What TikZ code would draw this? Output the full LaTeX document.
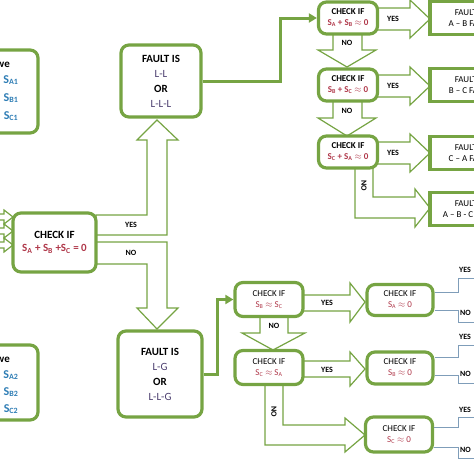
\documentclass[tikz,border=0pt]{standalone}
\usepackage{fontspec}
\setmainfont{Carlito}
\usetikzlibrary{arrows.meta}
\definecolor{gbox}{HTML}{76A443}
\definecolor{redt}{HTML}{B0384A}
\definecolor{bluet}{HTML}{2E7DB5}
\definecolor{purt}{HTML}{4A3D6E}
\definecolor{bline}{HTML}{7F9DB9}
\begin{document}
\begin{tikzpicture}[x=1pt,y=-1pt,
 rbox/.style={draw=gbox,line width=3.2pt,rounded corners=8pt,fill=white,align=center,inner sep=0pt},
 fbox/.style={draw=gbox,line width=3.5pt,fill=white,align=center,inner sep=0pt,minimum width=80pt,minimum height=33pt,font=\fontsize{9}{11}\selectfont},
 hollow/.style={draw=gbox,line width=1.2pt,fill=white,line join=miter},
 conn/.style={draw=gbox,line width=3pt,-{Triangle[length=8pt,width=9pt]}},
 bconn/.style={draw=bline,line width=1pt},
 lbl/.style={font=\bfseries\fontsize{8}{9}\selectfont,inner sep=0pt},
 chk/.style={rbox,minimum width=59pt,minimum height=32pt,font=\bfseries\fontsize{9}{11}\selectfont},
 chkb/.style={rbox,minimum height=34pt,font=\fontsize{9}{11}\selectfont},
 sblue/.style={text=bluet,font=\bfseries\fontsize{12}{14}\selectfont,inner sep=0pt}]
\path[use as bounding box,clip] (0,0) rectangle (474,474);

% ---------- hollow block arrows (behind boxes) ----------
\draw[hollow] (96,215) -- (147,215) -- (147,140) -- (137,140) -- (157,120) -- (178,140) -- (167,140) -- (167,235) -- (96,235) -- cycle;
\draw[hollow] (96,242) -- (167,242) -- (167,308) -- (178,308) -- (157,329) -- (137,308) -- (147,308) -- (147,264) -- (96,264) -- cycle;
\foreach \c in {19,86,153}{
  \draw[hollow] (377,\c-11) -- (410,\c-11) -- (410,\c-19) -- (430,\c) -- (410,\c+19) -- (410,\c+11) -- (377,\c+11) -- cycle;
}
\draw[hollow] (333,33) -- (333,50) -- (318,50) -- (347,67) -- (376,50) -- (362,50) -- (362,33) -- cycle;
\draw[hollow] (333,101) -- (333,118) -- (318,118) -- (347,136) -- (376,118) -- (362,118) -- (362,101) -- cycle;
\draw[hollow] (355,168) -- (355,218) -- (415,218) -- (415,227) -- (430,208) -- (415,189) -- (415,197) -- (373,197) -- (373,168) -- cycle;
\draw[hollow] (303,295) -- (350,295) -- (350,283) -- (365,302) -- (350,322) -- (350,311) -- (303,311) -- cycle;
\draw[hollow] (303,361) -- (350,361) -- (350,352) -- (365,369) -- (350,386) -- (350,377) -- (303,377) -- cycle;
\draw[hollow] (260,317) -- (260,333) -- (242,333) -- (273,350) -- (305,333) -- (288,333) -- (288,317) -- cycle;
\draw[hollow] (265,385) -- (265,445) -- (345,445) -- (345,452) -- (365,435) -- (345,418) -- (345,425) -- (283,425) -- (283,385) -- cycle;
% small arrows at the left edge
\foreach \c in {217,231,245}{
  \draw[hollow] (-5,\c-3) -- (4,\c-3) -- (4,\c-7) -- (13,\c) -- (4,\c+7) -- (4,\c+3) -- (-5,\c+3) -- cycle;
}

% ---------- boxes ----------
\node[rbox,minimum width=116pt,minimum height=83pt] (in1) at (-20,91.5) {};
\node[rbox,minimum width=116pt,minimum height=75pt] (in2) at (-20,382.5) {};
\node[font=\bfseries\fontsize{11}{13}\selectfont,inner sep=0pt] (we1) at (3,65) {we};
\node[sblue] (sa1) at (11,80) {S\textsubscript{A1}};
\node[sblue] (sb1) at (11,98) {S\textsubscript{B1}};
\node[sblue] (sc1) at (11,116) {S\textsubscript{C1}};
\node[font=\bfseries\fontsize{11}{13}\selectfont,inner sep=0pt] (we2) at (3,360) {we};
\node[sblue] (sa2) at (11,375) {S\textsubscript{A2}};
\node[sblue] (sb2) at (11,392) {S\textsubscript{B2}};
\node[sblue] (sc2) at (11,409) {S\textsubscript{C2}};

\node[rbox,minimum width=83pt,minimum height=59pt,font=\fontsize{11}{13}\selectfont] (c0) at (54.5,242.5)
 {\textbf{CHECK IF}\\\textcolor{redt}{\textbf{S\textsubscript{A} + S\textsubscript{B} +S\textsubscript{C} = 0}}};

\node[rbox,minimum width=80pt,minimum height=72pt,font=\fontsize{11}{15}\selectfont] (fi1) at (161,81)
 {\textbf{FAULT IS}\\\textcolor{purt}{L-L}\\\textbf{OR}\\\textcolor{purt}{L-L-L}};
\node[rbox,minimum width=84pt,minimum height=86pt,font=\fontsize{11}{15}\selectfont] (fi2) at (160,374)
 {\textbf{FAULT IS}\\\textcolor{purt}{L-G}\\\textbf{OR}\\\textcolor{purt}{L-L-G}};

\node[chk] (c1) at (348,18) {CHECK IF\\\textcolor{redt}{S\textsubscript{A} + S\textsubscript{B} $\approx$ 0}};
\node[chk] (c2) at (348,85) {CHECK IF\\\textcolor{redt}{S\textsubscript{B} + S\textsubscript{C} $\approx$ 0}};
\node[chk] (c3) at (348,152) {CHECK IF\\\textcolor{redt}{S\textsubscript{C} + S\textsubscript{A} $\approx$ 0}};

\node[fbox] (f1) at (470,18) {FAULT IS\\A – B FAULT};
\node[fbox] (f2) at (470,85) {FAULT IS\\B – C FAULT};
\node[fbox] (f3) at (470,153) {FAULT IS\\C – A FAULT};
\node[fbox] (f4) at (470,209) {FAULT IS\\A – B - C FAULT};

\node[chkb,minimum width=68pt] (c4) at (269,299.5) {CHECK IF\\\textcolor{redt}{S\textsubscript{B} $\approx$ S\textsubscript{C}}};
\node[chkb,minimum width=68pt] (c5) at (269,367.5) {CHECK IF\\\textcolor{redt}{S\textsubscript{C} $\approx$ S\textsubscript{A}}};
\node[chkb,minimum width=66pt,minimum height=31pt] (d1) at (400,300) {CHECK IF\\\textcolor{redt}{S\textsubscript{A} $\approx$ 0}};
\node[chkb,minimum width=66pt,minimum height=32pt] (d2) at (400,368) {CHECK IF\\\textcolor{redt}{S\textsubscript{B} $\approx$ 0}};
\node[chkb,minimum width=67pt,minimum height=35pt] (d3) at (399,434.5) {CHECK IF\\\textcolor{redt}{S\textsubscript{C} $\approx$ 0}};

% ---------- solid connectors ----------
\draw[conn] (fi1.east) -- (280,81) |- (c1.west);
\draw[conn] (fi2.east) -- (217,374) |- (c4.west);

% ---------- blue brackets ----------
\coordinate (e1) at (480,278); \coordinate (e2) at (480,322);
\coordinate (e3) at (480,345); \coordinate (e4) at (480,383);
\coordinate (e5) at (480,417); \coordinate (e6) at (480,458);
\draw[bconn] (d1.east |- 0,292) -- (458,292) |- (e1);
\draw[bconn] (d1.east |- 0,310) -- (458,310) |- (e2);
\draw[bconn] (d2.east |- 0,357) -- (458,357) |- (e3);
\draw[bconn] (d2.east |- 0,375) -- (458,375) |- (e4);
\draw[bconn] (d3.east |- 0,427) -- (458,427) |- (e5);
\draw[bconn] (d3.east |- 0,447) -- (458,447) |- (e6);
\node[lbl,anchor=west] (y1) at (459,270) {YES};
\node[lbl,anchor=west] (n1) at (460,313) {NO};
\node[lbl,anchor=west] (y2) at (459,337) {YES};
\node[lbl,anchor=west] (n2) at (460,374) {NO};
\node[lbl,anchor=west] (y3) at (459,410) {YES};
\node[lbl,anchor=west] (n3) at (460,450) {NO};

% ---------- labels on arrows ----------
\node[lbl] (ly0) at (131,225) {YES};
\node[lbl] (ln0) at (131,253) {NO};
\node[lbl] (ly1) at (393,19) {YES};
\node[lbl] (ly2) at (393,86) {YES};
\node[lbl] (ly3) at (393,153) {YES};
\node[lbl] (ln1) at (347,43) {NO};
\node[lbl] (ln2) at (347,111) {NO};
\node[lbl,rotate=-90] (ln3) at (364,186) {NO};
\node[lbl] (ly4) at (327,303) {YES};
\node[lbl] (ly5) at (327,370) {YES};
\node[lbl] (ln4) at (274,326) {NO};
\node[lbl,rotate=-90] (ln5) at (274,412) {NO};
\end{tikzpicture}
\end{document}
